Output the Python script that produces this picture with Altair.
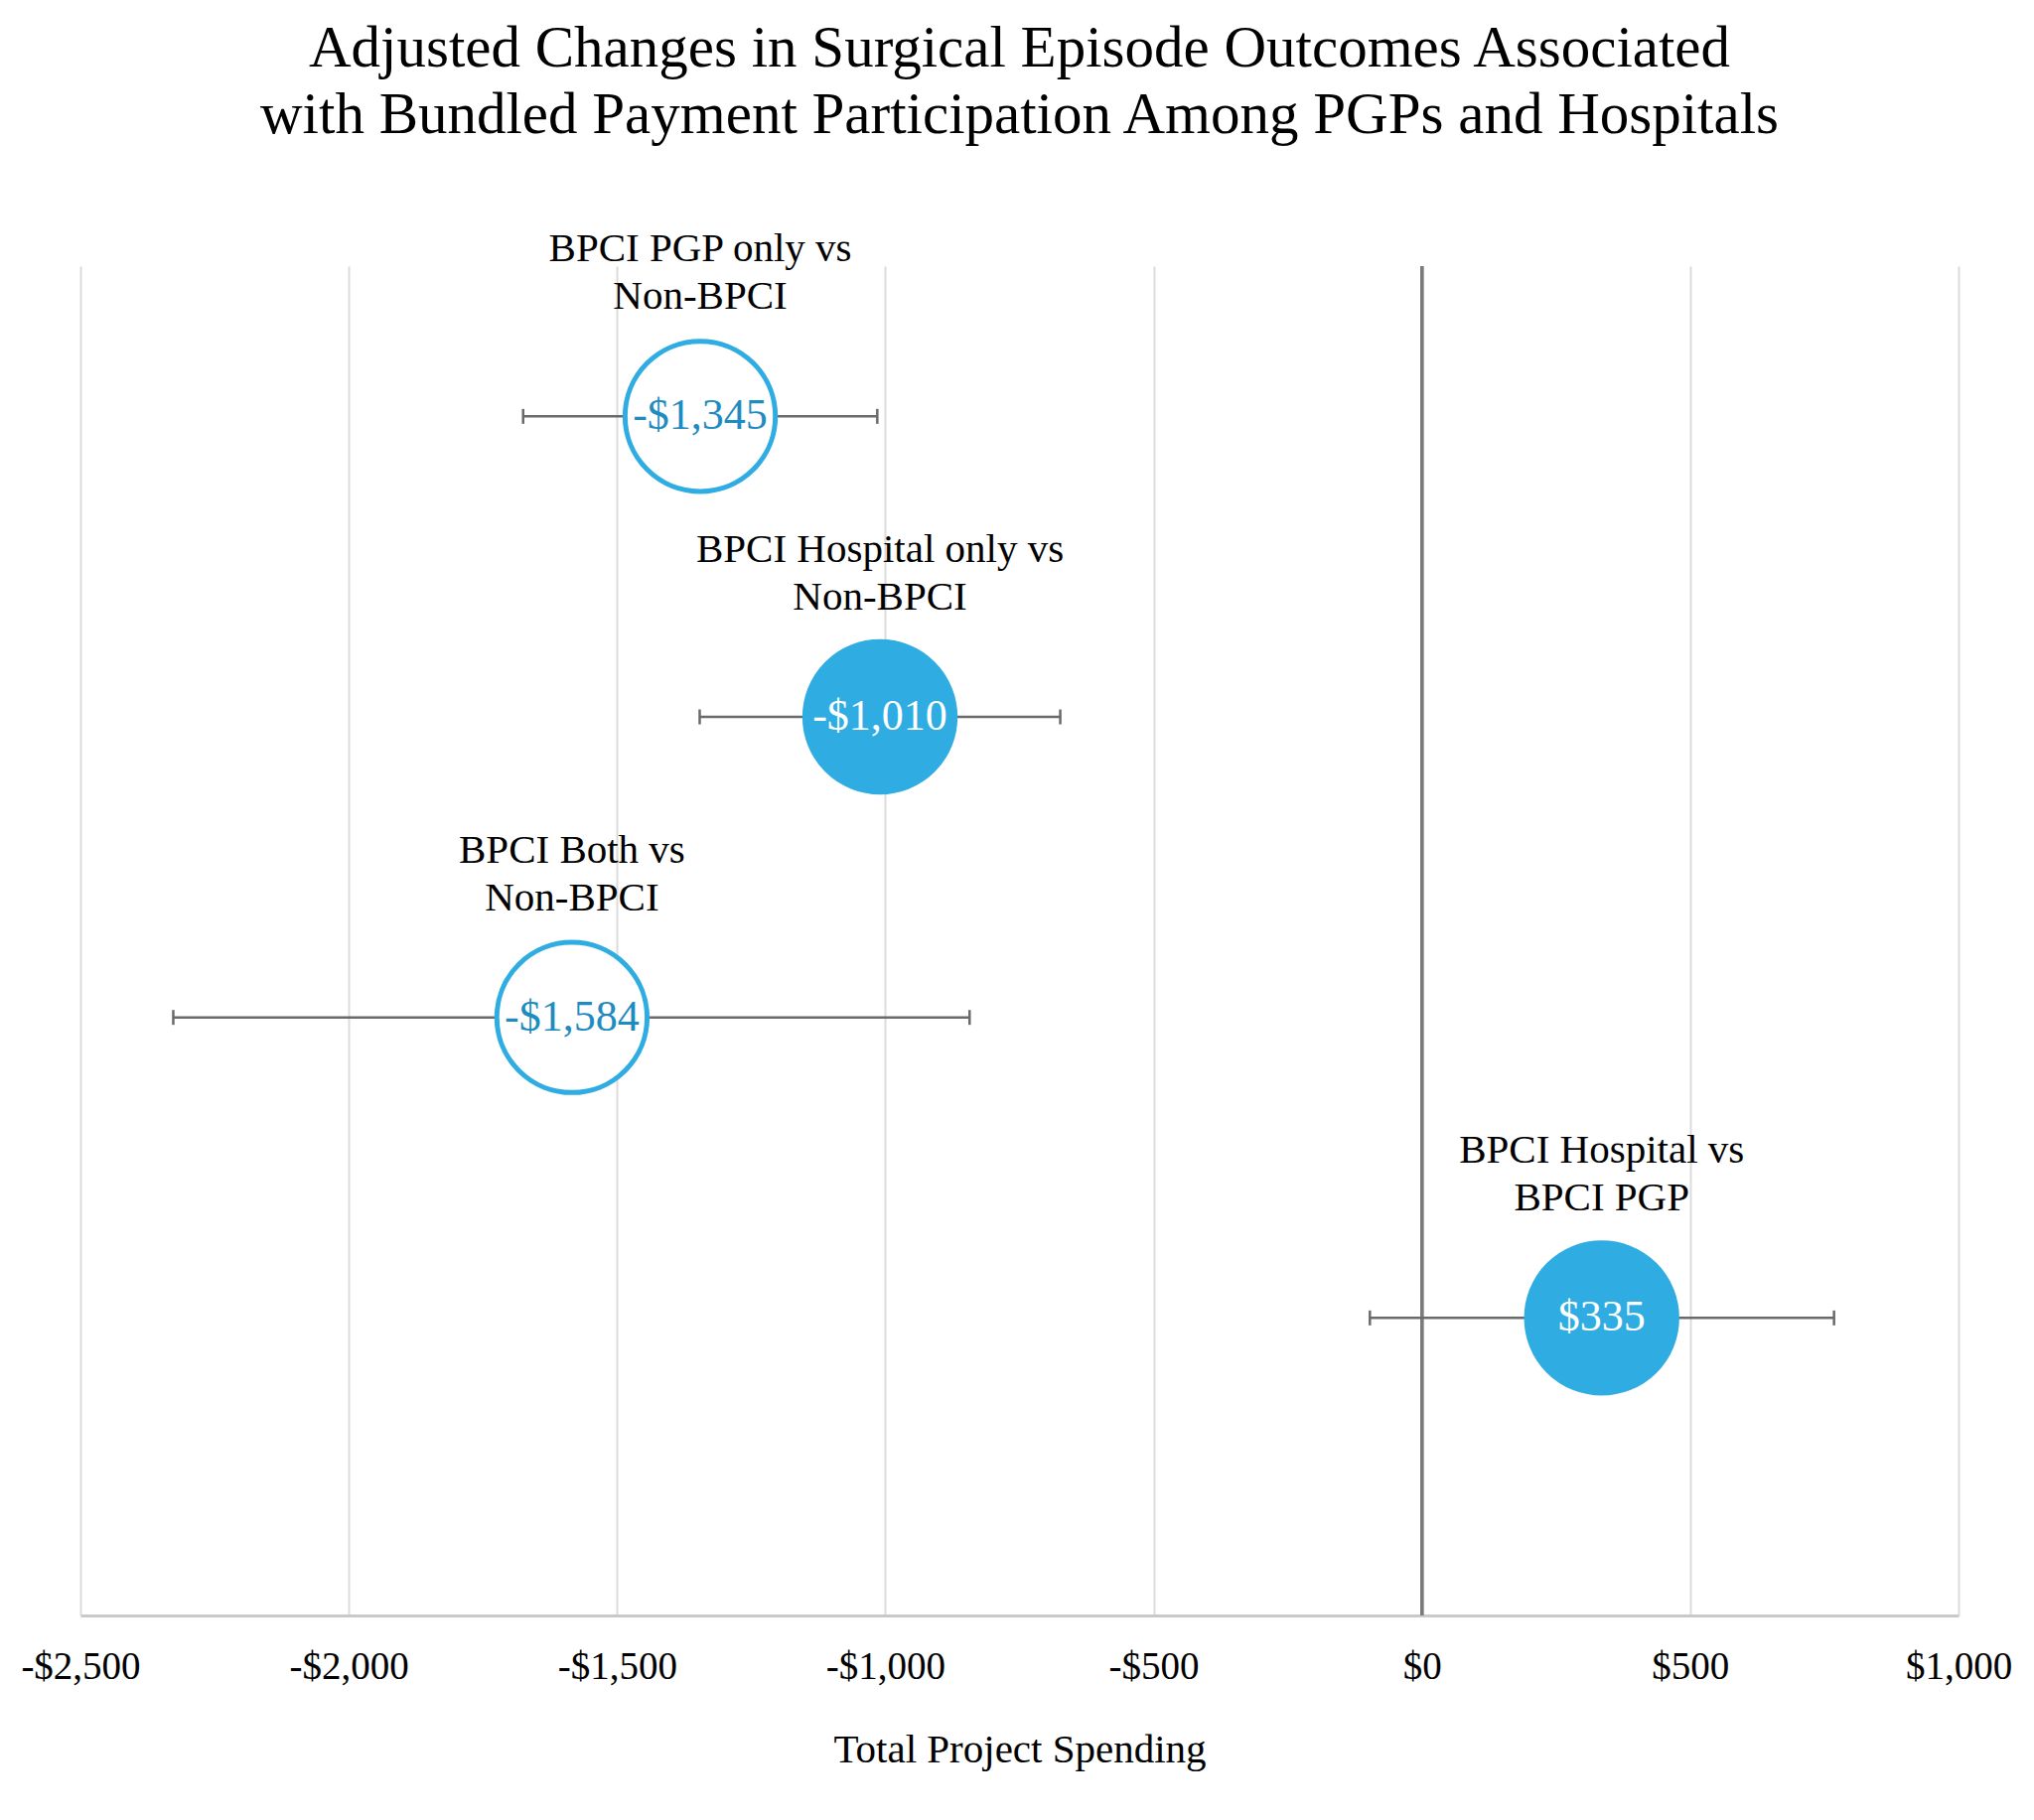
import altair as alt
import pandas as pd

# Comparison groups (two-line labels), estimates and 95% confidence limits
groups = [
    "BPCI PGP only vs\nNon-BPCI",
    "BPCI Hospital only vs\nNon-BPCI",
    "BPCI Both vs\nNon-BPCI",
    "BPCI Hospital vs\nBPCI PGP",
]
estimates = [-1345, -1010, -1584, 335]
lower_ci = [-1675, -1346, -2327, -97]
upper_ci = [-1015, -674, -843, 768]
filled = [False, True, False, True]
rows = [1, 2, 3, 4]
x_ticks = [-2500, -2000, -1500, -1000, -500, 0, 500, 1000]

BLUE = "#2fade2"
DARK_BLUE = "#1f8cc0"
GREY = "#6a6a6a"
FONT = "Liberation Serif"


def money(v):
    return ("-" if v < 0 else "") + "${:,}".format(abs(v))


df = pd.DataFrame({
    "group": groups,
    "estimate": estimates,
    "lower": lower_ci,
    "upper": upper_ci,
    "filled": filled,
    "row": rows,
    "value_label": [money(v) for v in estimates],
})

x_scale = alt.Scale(domain=[-2500, 1000], nice=False, zero=False)
y_scale = alt.Scale(domain=[0.5, 4.99], reverse=True, nice=False, zero=False)

x_axis = alt.Axis(
    values=x_ticks,
    title="Total Project Spending",
    labelExpr="(datum.value < 0 ? '-' : '') + '$' + format(abs(datum.value), ',')",
    labelFlush=False,
    labelOverlap=False,
    grid=True,
    gridColor="#dcdcdc",
    gridWidth=2,
    domainColor="#c9c9c9",
    domainWidth=3,
    ticks=False,
    labelFont=FONT,
    labelFontSize=39,
    labelColor="#000000",
    labelPadding=32,
    titleFont=FONT,
    titleFontSize=41,
    titleFontWeight="normal",
    titleColor="#000000",
    titlePadding=44,
)

base = alt.Chart(df)

zero_line = base.mark_rule(color="#7b7b7b", strokeWidth=3).encode(
    x=alt.datum(0, scale=x_scale, axis=x_axis)
)

whiskers = base.mark_rule(color=GREY, strokeWidth=2.5).encode(
    x=alt.X("lower:Q", scale=x_scale, axis=x_axis),
    x2="upper:Q",
    y=alt.Y("row:Q", scale=y_scale, axis=None),
)

cap_shape = "M0,-1L0,1"
lower_caps = base.mark_point(shape=cap_shape, size=225, color=GREY, strokeWidth=2.5, opacity=1).encode(
    x=alt.X("lower:Q", scale=x_scale, axis=x_axis),
    y=alt.Y("row:Q", scale=y_scale, axis=None),
)
upper_caps = base.mark_point(shape=cap_shape, size=225, color=GREY, strokeWidth=2.5, opacity=1).encode(
    x=alt.X("upper:Q", scale=x_scale, axis=x_axis),
    y=alt.Y("row:Q", scale=y_scale, axis=None),
)

circles = base.mark_point(shape="circle", size=22900, stroke=BLUE, strokeWidth=5, opacity=1).encode(
    x=alt.X("estimate:Q", scale=x_scale, axis=x_axis),
    y=alt.Y("row:Q", scale=y_scale, axis=None),
    fill=alt.condition("datum.filled", alt.value(BLUE), alt.value("#ffffff")),
)

values = base.mark_text(font=FONT, fontSize=44, baseline="middle", align="center").encode(
    x=alt.X("estimate:Q", scale=x_scale, axis=x_axis),
    y=alt.Y("row:Q", scale=y_scale, axis=None),
    text="value_label:N",
    color=alt.condition("datum.filled", alt.value("#ffffff"), alt.value(DARK_BLUE)),
)

group_labels = base.mark_text(
    font=FONT, fontSize=41, baseline="middle", align="center",
    lineBreak="\n", lineHeight=48, dy=-168, color="#000000",
).encode(
    x=alt.X("estimate:Q", scale=x_scale, axis=x_axis),
    y=alt.Y("row:Q", scale=y_scale, axis=None),
    text="group:N",
)

chart = alt.layer(
    zero_line, whiskers, lower_caps, upper_caps, circles, values, group_labels
).properties(
    width=1891,
    height=1359,
    autosize=alt.AutoSizeParams(type="none"),
    padding={"left": 81, "top": 268, "right": 76, "bottom": 206},
    background="#ffffff",
    title=alt.Title(
        text=[
            "Adjusted Changes in Surgical Episode Outcomes Associated",
            "with Bundled Payment Participation Among PGPs and Hospitals",
        ],
        font=FONT,
        fontSize=59,
        fontWeight="normal",
        color="#000000",
        anchor="middle",
        frame="group",
        lineHeight=67,
        offset=84,
    ),
).configure_view(stroke=None)

chart.save("out.html", embed_options={"renderer": "svg", "actions": False})
